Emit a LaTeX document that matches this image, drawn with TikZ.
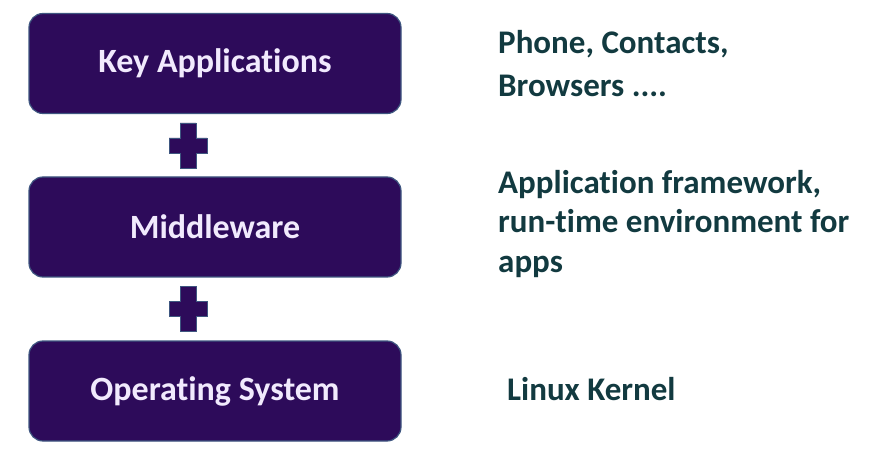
\documentclass[tikz,border=0pt]{standalone}
\usepackage{fontspec}
\setmainfont[Ligatures=NoCommon]{Carlito}
\definecolor{boxfill}{HTML}{2D0B5A}
\definecolor{boxedge}{HTML}{3E5680}
\definecolor{boxtext}{HTML}{F1EAFD}
\definecolor{sidetext}{HTML}{123A40}
\tikzset{
  layerbox/.style={draw=boxedge, line width=1.2pt, fill=boxfill, rounded corners=14pt,
    minimum width=372pt, minimum height=100pt, inner sep=0pt, text=boxtext,
    font=\bfseries\fontsize{34}{38}\selectfont},
  sidenote/.style={anchor=base west, align=left, inner sep=0pt, text=sidetext},
  plusbar/.style={draw=boxedge, line width=0.8pt, fill=boxfill}
}
\begin{document}
\begin{tikzpicture}[x=1pt,y=-1pt]
\useasboundingbox (0,0) rectangle (894,470);
\node[layerbox] (apps) at (215,63.5) {Key Applications};
\node[layerbox] (mid) at (215,227) {Middleware};
\node[layerbox] (os) at (215,391) {Operating System};
% plus signs
\node[inner sep=0pt, minimum size=0pt] (p1) at (188,145.5) {};
\node[inner sep=0pt, minimum size=0pt] (p2) at (188,309) {};
\foreach \p in {p1,p2}{
  \path[plusbar] ([shift={(-19,-7.5)}]\p.center) -- ++(11,0) -- ++(0,-15) -- ++(16,0) -- ++(0,15) -- ++(11,0)
    -- ++(0,15) -- ++(-11,0) -- ++(0,15) -- ++(-16,0) -- ++(0,-15) -- ++(-11,0) -- cycle;
}
\node[sidenote, font=\bfseries\fontsize{33}{43}\selectfont] (n1) at (498,97) {Phone, Contacts,\\Browsers ....};
\node[sidenote, font=\bfseries\fontsize{33}{40}\selectfont] (n2) at (498,273) {Application framework,\\run-time environment for\\apps};
\node[sidenote, font=\bfseries\fontsize{33}{40}\selectfont] (n3) at (507,400) {Linux Kernel};
\end{tikzpicture}
\end{document}
